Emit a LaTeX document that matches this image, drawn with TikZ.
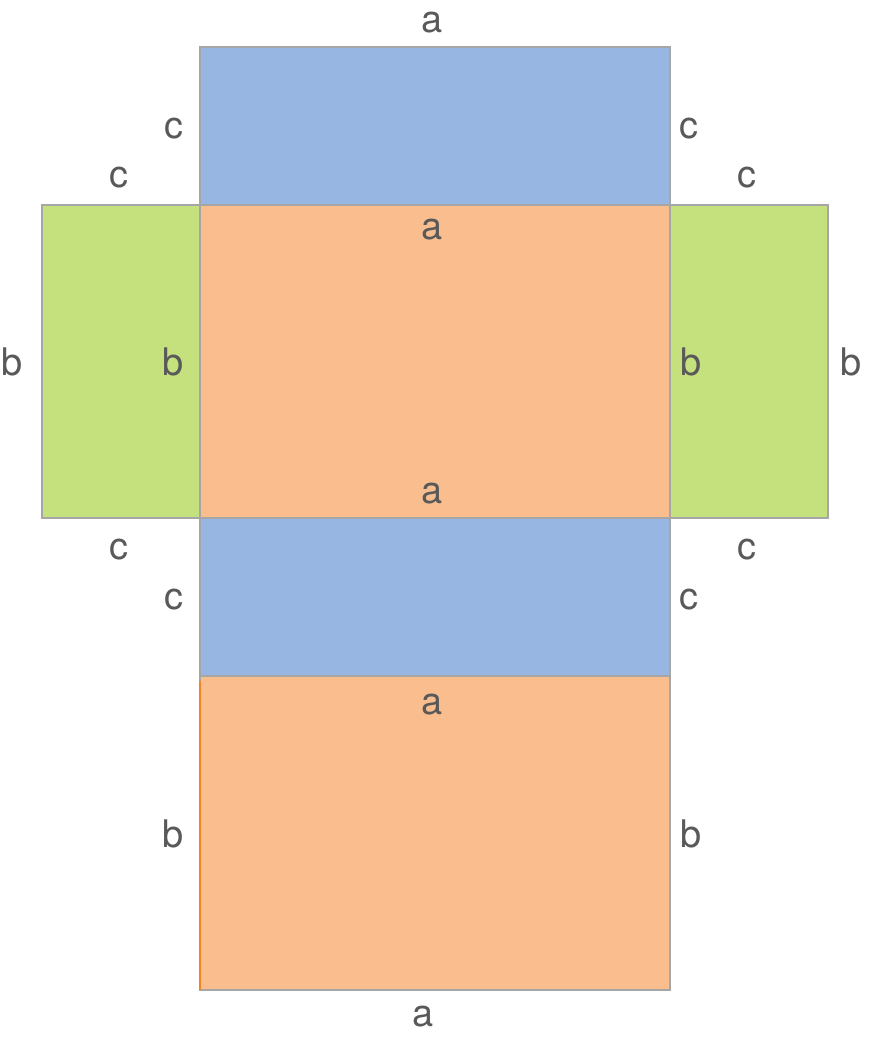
\documentclass[tikz,border=0pt]{standalone}
\usepackage{fontspec}
\setmainfont{TeX Gyre Heros}
\definecolor{bluef}{HTML}{97B7E2}
\definecolor{orangef}{HTML}{FABE8E}
\definecolor{greenf}{HTML}{C5E17D}
\definecolor{edgegray}{HTML}{A6A6A6}
\definecolor{edgeorange}{HTML}{F58220}
\definecolor{txt}{HTML}{595959}
\begin{document}
\begin{tikzpicture}[x=1pt,y=-1pt,
  face/.style={draw=edgegray,line width=2pt},
  lbl/.style={anchor=base,inner sep=0pt,text=txt,font=\fontsize{38}{38}\selectfont}]
\useasboundingbox (0,0) rectangle (869,1037);
% faces
\draw[face,fill=bluef] (200,47) rectangle (670,205);
\draw[face,fill=greenf] (42,205) rectangle (200,518);
\draw[face,fill=greenf] (670,205) rectangle (828,518);
\draw[face,fill=orangef] (200,205) rectangle (670,518);
\draw[face,fill=bluef] (200,518) rectangle (670,676);
\draw[face,fill=orangef] (200,676) rectangle (670,990);
\coordinate (e1) at (200,681);
\coordinate (e2) at (200,990);
\draw[edgeorange,line width=2pt] (e1) -- (e2);
% labels
\node[lbl] (a1) at (432,32) {a};
\node[lbl] (c1) at (174,138) {c};
\node[lbl] (c2) at (689,138) {c};
\node[lbl] (c3) at (119,187) {c};
\node[lbl] (c4) at (747,187) {c};
\node[lbl] (a2) at (432,239) {a};
\node[lbl] (b1) at (12,375) {b};
\node[lbl] (b2) at (173,375) {b};
\node[lbl] (b3) at (691,375) {b};
\node[lbl] (b4) at (851,375) {b};
\node[lbl] (a3) at (432,503) {a};
\node[lbl] (c5) at (119,559) {c};
\node[lbl] (c6) at (747,559) {c};
\node[lbl] (c7) at (174,609) {c};
\node[lbl] (c8) at (689,609) {c};
\node[lbl] (a4) at (432,714) {a};
\node[lbl] (b5) at (173,847) {b};
\node[lbl] (b6) at (691,847) {b};
\node[lbl] (a5) at (423,1026) {a};
\end{tikzpicture}
\end{document}
